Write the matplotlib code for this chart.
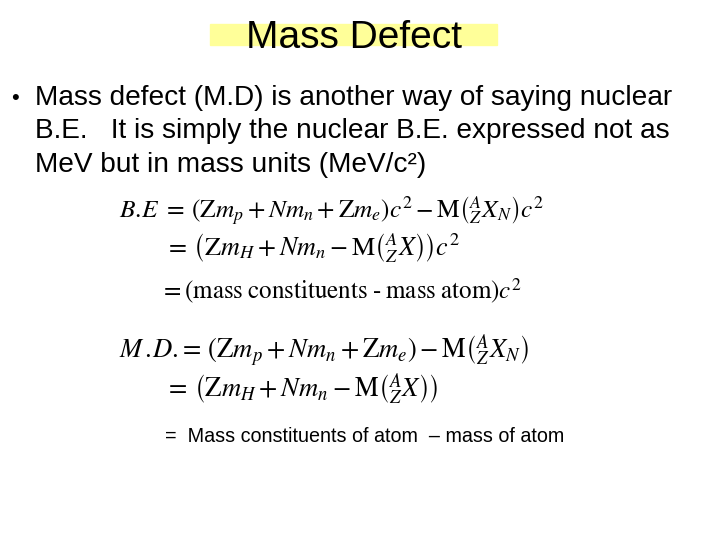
import matplotlib
matplotlib.use("Agg")
import matplotlib.pyplot as plt
from matplotlib.patches import Rectangle

# slide texts
title = "Mass Defect"
bullet_lines = [
    "Mass defect (M.D) is another way of saying nuclear",
    "B.E.   It is simply the nuclear B.E. expressed not as",
    "MeV but in mass units (MeV/c\u00b2)",
]
be_lines = [
    r"$B.\!E\ =\,\left(\mathrm{Z}m_p + Nm_n + \mathrm{Z}m_e\right)c^2 - \mathrm{M}\left({}^{A}_{Z}X_N\right)c^2$",
    r"$=\,\left(\mathrm{Z}m_H + Nm_n - \mathrm{M}\left({}^{A}_{Z}X\right)\right)c^2$",
    r"$=\left(\mathrm{mass\;constituents\;\text{-}\;mass\;atom}\right)c^2$",
]
md_lines = [
    r"$M\,.\!D.\!=\,\left(\mathrm{Z}m_p + Nm_n + \mathrm{Z}m_e\right) - \mathrm{M}\left({}^{A}_{Z}X_N\right)$",
    r"$=\,\left(\mathrm{Z}m_H + Nm_n - \mathrm{M}\left({}^{A}_{Z}X\right)\right)$",
]
md_words = "=  Mass constituents of atom  \u2013 mass of atom"

plt.rcParams['font.family'] = ['Liberation Sans', 'DejaVu Sans']
plt.rcParams['mathtext.fontset'] = 'stix'

W, H = 720, 540
fig = plt.figure(figsize=(7.2, 5.4), dpi=100)
fig.patch.set_facecolor('white')


def put(x, y, s, **kw):
    # pixel coords from top-left
    fig.text(x / W, 1 - y / H, s, va='baseline', **kw)


# title with yellow band
fig.patches.append(Rectangle((210 / W, 1 - 45 / H), 287 / W, 21 / H,
                             transform=fig.transFigure, color='#ffff99', zorder=0))
put(354, 48, title, ha='center', fontsize=28)

# bullet
put(11, 104, "\u2022", fontsize=16)
for i, line in enumerate(bullet_lines):
    put(35, 105 + i * 33.5, line, fontsize=20.2)

# binding energy
put(119, 219, be_lines[0], fontsize=18.3)
put(165, 256, be_lines[1], fontsize=18.8)
put(160, 299, be_lines[2], fontsize=18)

# mass defect
put(119, 358, md_lines[0], fontsize=19.2)
put(165, 397, md_lines[1], fontsize=19.2)
put(165, 442, md_words, fontsize=14.2)

fig.savefig("out.png", dpi=100)
